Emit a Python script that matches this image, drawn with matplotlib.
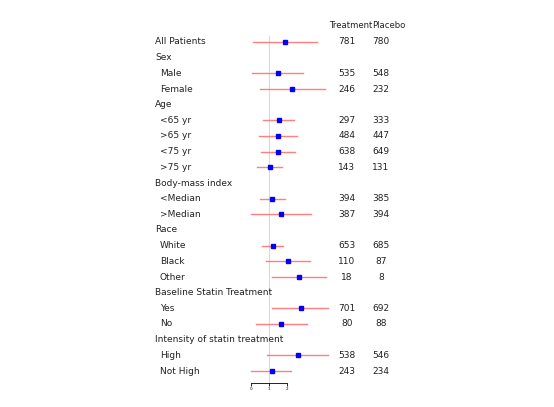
import matplotlib
matplotlib.use("Agg")
import matplotlib.pyplot as plt
import matplotlib.transforms as mtransforms

labels = ["All Patients", "Sex", "Male", "Female", "Age", "<65 yr", ">65 yr", "<75 yr", ">75 yr",
          "Body-mass index", "<Median", ">Median", "Race", "White", "Black", "Other",
          "Baseline Statin Treatment", "Yes", "No", "Intensity of statin treatment", "High", "Not High"]
is_header = [True, True, False, False, True, False, False, False, False,
             True, False, False, True, False, False, False, True, False, False, True, False, False]
est = [1.89, None, 1.5, 2.28, None, 1.55, 1.5, 1.5, 1.05, None, 1.17, 1.67, None, 1.2, 2.06, 2.67,
       None, 2.76, 1.69, None, 2.59, 1.15]
lo = [0.11, None, 0.06, 0.5, None, 0.67, 0.44, 0.56, 0.33, None, 0.5, 0.0, None, 0.6, 0.83, 1.17,
      None, 1.17, 0.28, None, 0.9, 0.0]
hi = [3.67, None, 2.9, 4.1, None, 2.4, 2.55, 2.45, 1.72, None, 1.9, 3.33, None, 1.76, 3.28, 4.15,
      None, 4.3, 3.09, None, 4.26, 2.22]
treatment = ["781", "", "535", "246", "", "297", "484", "638", "143", "", "394", "387", "",
             "653", "110", "18", "", "701", "80", "", "538", "243"]
placebo = ["780", "", "548", "232", "", "333", "447", "649", "131", "", "385", "394", "",
           "685", "87", "8", "", "692", "88", "", "546", "234"]
xticks = [0, 1, 2]

W, H = 554, 407
fig = plt.figure(figsize=(W/100, H/100), dpi=100)
top_px, bot_px = 30, 383
ax = fig.add_axes([245/W, 1 - bot_px/H, (330-245)/W, (bot_px-top_px)/H])
step = (371-42)/21
def row_y(px):
    return (px-42)/step + 1
ax.set_xlim((245-251)/18, (330-251)/18)
ax.set_ylim(row_y(bot_px), row_y(top_px))
for s in ["top", "right", "left"]:
    ax.spines[s].set_visible(False)
ax.spines["bottom"].set_bounds(0, 2)
ax.spines["bottom"].set_linewidth(0.6)
ax.set_yticks([])
ax.set_xticks(xticks)
ax.tick_params(axis="x", length=2, width=0.6, labelsize=3, pad=1)
ax.axvline(1, color="#d9d9d9", lw=0.8, ymin=0, ymax=(row_y(bot_px)-row_y(36))/(row_y(bot_px)-row_y(top_px)), zorder=0)

trans = mtransforms.blended_transform_factory(fig.transFigure, ax.transData)
fs = 6.5
for i, lab in enumerate(labels):
    y = i + 1
    x = 155 if is_header[i] else 160
    fig.text(x/W, y, lab, transform=trans, fontsize=fs, va="center", ha="left", color="#222222")
    if est[i] is not None:
        ax.plot([lo[i], hi[i]], [y, y], color="#ff7f7f", lw=1.0, zorder=2)
        ax.plot(est[i], y, marker="s", color="#0000ff", ms=3.2, zorder=3)
    fig.text(347/W, y, treatment[i], transform=trans, fontsize=fs, va="center", ha="center", color="#222222")
    fig.text(381/W, y, placebo[i], transform=trans, fontsize=fs, va="center", ha="center", color="#222222")
fig.text(329/W, 1 - 26/H, "Treatment", fontsize=6.1, va="center", ha="left", color="#222222")
fig.text(372/W, 1 - 26/H, "Placebo", fontsize=6.1, va="center", ha="left", color="#222222")

fig.savefig("out.png", dpi=100)
